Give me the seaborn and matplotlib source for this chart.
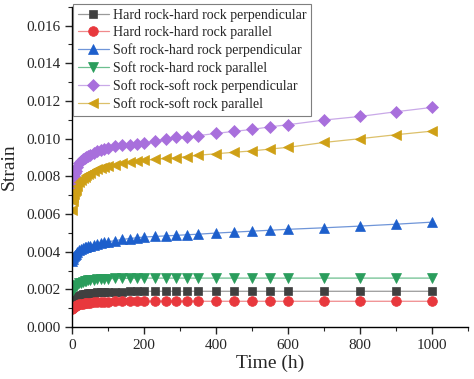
import numpy as np
import pandas as pd
import matplotlib
matplotlib.use("Agg")
import matplotlib.pyplot as plt
import seaborn as sns
from matplotlib.ticker import MultipleLocator, FuncFormatter

time_h = [0, 2, 4, 6, 8, 10, 15, 20, 25, 30, 35, 40, 45, 50, 60, 70, 80, 90, 100,
          120, 140, 160, 180, 200, 230, 260, 290, 320, 350, 400, 450, 500, 550, 600,
          700, 800, 900, 1000]

hard_hard_perp = [0.0013, 0.00138, 0.00145, 0.0015, 0.00154, 0.00157, 0.00163, 0.00167,
                  0.0017, 0.00173, 0.00175, 0.00177, 0.00179, 0.0018, 0.00182, 0.00184,
                  0.00185, 0.00186, 0.00187, 0.00188, 0.00188, 0.00189, 0.00189, 0.0019,
                  0.0019, 0.0019, 0.0019, 0.0019, 0.0019, 0.0019, 0.0019, 0.0019, 0.0019,
                  0.0019, 0.0019, 0.0019, 0.0019, 0.0019]
hard_hard_par = [0.00095, 0.001, 0.00105, 0.00109, 0.00112, 0.00114, 0.00118, 0.00121,
                 0.00123, 0.00125, 0.00127, 0.00128, 0.00129, 0.0013, 0.00131, 0.00132,
                 0.00133, 0.00134, 0.00135, 0.00136, 0.00136, 0.00137, 0.00137, 0.00137,
                 0.00137, 0.00137, 0.00137, 0.00137, 0.00137, 0.00137, 0.00137, 0.00137,
                 0.00137, 0.00137, 0.00137, 0.00137, 0.00137, 0.00137]
soft_hard_perp = [0.0035, 0.0036, 0.0037, 0.00378, 0.00385, 0.0039, 0.004, 0.00408,
                  0.00414, 0.00419, 0.00423, 0.00427, 0.0043, 0.00433, 0.00438, 0.00443,
                  0.00447, 0.0045, 0.00453, 0.00459, 0.00465, 0.0047, 0.00474, 0.00478,
                  0.00481, 0.00484, 0.00487, 0.0049, 0.00493, 0.00499, 0.00504, 0.00509,
                  0.00514, 0.00519, 0.00527, 0.00536, 0.00546, 0.00557]
soft_hard_par = [0.0019, 0.00197, 0.00204, 0.0021, 0.00215, 0.00219, 0.00226, 0.00232,
                 0.00236, 0.0024, 0.00243, 0.00246, 0.00248, 0.0025, 0.00252, 0.00254,
                 0.00255, 0.00256, 0.00257, 0.00258, 0.00259, 0.00259, 0.0026, 0.0026,
                 0.0026, 0.0026, 0.0026, 0.0026, 0.0026, 0.0026, 0.0026, 0.0026, 0.0026,
                 0.0026, 0.0026, 0.0026, 0.0026, 0.0026]
soft_soft_perp = [0.0070, 0.0075, 0.0078, 0.008, 0.0082, 0.0083, 0.0085, 0.0087, 0.0088,
                  0.0089, 0.009, 0.00905, 0.0091, 0.00915, 0.00925, 0.00935, 0.00942,
                  0.00947, 0.00952, 0.0096, 0.00964, 0.00968, 0.00972, 0.00976, 0.00986,
                  0.00998, 0.01007, 0.0101, 0.01016, 0.01028, 0.01039, 0.01049, 0.01063,
                  0.01074, 0.01099, 0.01118, 0.01143, 0.01166]
soft_soft_par = [0.0062, 0.0067, 0.0069, 0.00705, 0.0072, 0.0073, 0.0075, 0.00768,
                 0.0078, 0.0079, 0.00798, 0.00806, 0.00813, 0.0082, 0.0083, 0.00838,
                 0.00845, 0.0085, 0.00855, 0.00863, 0.0087, 0.00875, 0.0088, 0.00885,
                 0.0089, 0.00895, 0.009, 0.00905, 0.00912, 0.0092, 0.00928, 0.00935,
                 0.00945, 0.00954, 0.0098, 0.01, 0.01021, 0.0104]

labels = ["Hard rock-hard rock perpendicular", "Hard rock-hard rock parallel",
          "Soft rock-hard rock perpendicular", "Soft rock-hard rock parallel",
          "Soft rock-soft rock perpendicular", "Soft rock-soft rock parallel"]
series = [hard_hard_perp, hard_hard_par, soft_hard_perp, soft_hard_par,
          soft_soft_perp, soft_soft_par]
markers = ["s", "o", "^", "v", "D", "<"]
colors = ["#404040", "#e8383d", "#1d5fcc", "#2a9d5c", "#a86fdc", "#cfa016"]
line_colors = ["#9a9a9a", "#f08a8c", "#6f95d8", "#6cbf8f", "#c9a9e8", "#dcc06a"]
msizes = [6, 7, 7.5, 7.5, 6.5, 7.5]

sns.set_style("ticks")
plt.rcParams["font.family"] = ["Liberation Serif", "DejaVu Serif"]
plt.rcParams["mathtext.fontset"] = "stix"

fig = plt.figure(figsize=(4.74, 3.79), dpi=100)
ax = fig.add_axes([0.152, 0.137, 0.835, 0.845])

for lab, vals, m, c, lc, ms in zip(labels, series, markers, colors, line_colors, msizes):
    df = pd.DataFrame({"Time": time_h, "Strain": vals})
    sns.lineplot(data=df, x="Time", y="Strain", ax=ax, color=lc, linewidth=0.9,
                 marker=m, markersize=ms, markerfacecolor=c, markeredgecolor=c,
                 markeredgewidth=0.5, label=lab)

ax.set_xlim(0, 1100)
ax.set_ylim(0, 0.017)
ax.xaxis.set_major_locator(MultipleLocator(200))
ax.xaxis.set_minor_locator(MultipleLocator(100))
ax.yaxis.set_major_locator(MultipleLocator(0.002))
ax.yaxis.set_minor_locator(MultipleLocator(0.001))
ax.yaxis.set_major_formatter(FuncFormatter(lambda v, p: f"{v:.3f}"))
ax.tick_params(which="major", direction="out", length=5, width=1.0, labelsize=11)
ax.tick_params(which="minor", direction="out", length=3, width=0.8)
for s in ["top", "right"]:
    ax.spines[s].set_visible(False)
for s in ["left", "bottom"]:
    ax.spines[s].set_linewidth(1.0)
    ax.spines[s].set_color("black")

ax.set_xlabel("Time (h)", fontsize=14, labelpad=2)
ax.set_ylabel("Strain", fontsize=14, labelpad=6)

leg = ax.legend(loc="upper left", bbox_to_anchor=(0.003, 1.008), fontsize=10,
                frameon=True, fancybox=False, edgecolor="#7f7f7f", framealpha=1,
                handlelength=2.2, handletextpad=0.3, labelspacing=0.3,
                borderpad=0.35, borderaxespad=0.0)
leg.get_frame().set_linewidth(0.8)

fig.savefig("out.png", dpi=100)
